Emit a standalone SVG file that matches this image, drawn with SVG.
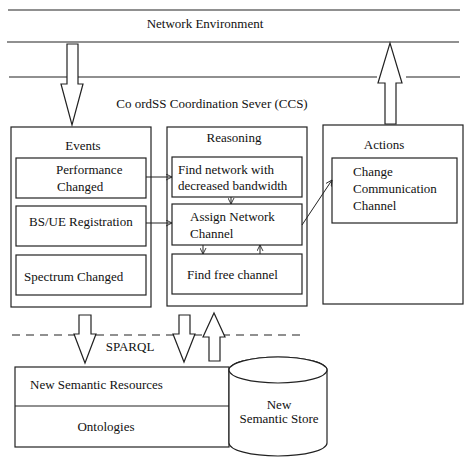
<svg xmlns="http://www.w3.org/2000/svg" width="474" height="465" viewBox="0 0 474 465">
<style>
text{font-family:"Liberation Serif","DejaVu Serif",serif;font-size:13px;fill:#111}
.b{fill:#fff;stroke:#222;stroke-width:1.2}
.l{stroke:#222;stroke-width:1.2;fill:none}
.c{stroke:#222;stroke-width:1;fill:none}
.bigarrow{fill:#fff;stroke:#222;stroke-width:1.2}
.m{text-anchor:middle}
</style>
<defs>
<marker id="ah" viewBox="0 0 8 8" refX="7" refY="4" markerWidth="7" markerHeight="7" orient="auto" markerUnits="userSpaceOnUse">
<path d="M0,0.5 L7,4 L0,7.5" fill="none" stroke="#222" stroke-width="1"/>
</marker>
</defs>
<rect width="474" height="465" fill="#fff"/>

<g id="environment">
<line class="l" x1="8" y1="10" x2="460" y2="10"/>
<line class="l" x1="7" y1="42" x2="459" y2="42"/>
<line class="l" x1="9" y1="77" x2="377" y2="77"/>
<line class="l" x1="406" y1="77" x2="460" y2="77"/>
<text class="m" x="205" y="28">Network Environment</text>
<text class="m" x="212" y="108">Co ordSS Coordination Sever (CCS)</text>
</g>

<g id="arrow-down-env">
<polygon class="bigarrow" points="67,44 78,44 78,84 83,84 72,125 61,84 67,84"/>
</g>
<g id="arrow-up-env">
<polygon class="bigarrow" points="385,124 396,124 396,83 402,83 390,43 378,83 385,83"/>
</g>

<g id="events">
<rect class="b" x="11" y="127" width="140" height="180"/>
<text class="m" x="83" y="150">Events</text>
</g>
<g id="performance-changed">
<rect class="b" x="16" y="158" width="130" height="40"/>
<text x="56" y="174">Performance</text>
<text x="57" y="191">Changed</text>
</g>
<g id="bsue-registration">
<rect class="b" x="16" y="206" width="130" height="40"/>
<text x="29" y="226">BS/UE Registration</text>
</g>
<g id="spectrum-changed">
<rect class="b" x="16" y="255" width="130" height="40"/>
<text x="24" y="281">Spectrum Changed</text>
</g>

<g id="reasoning">
<rect class="b" x="167" y="127" width="140" height="179"/>
<text class="m" x="234" y="142">Reasoning</text>
</g>
<g id="find-network">
<rect class="b" x="172" y="157" width="130" height="40"/>
<text x="178" y="174">Find network with</text>
<text x="178" y="190">decreased bandwidth</text>
</g>
<g id="assign-channel">
<rect class="b" x="172" y="204" width="130" height="41"/>
<text x="190" y="221">Assign Network</text>
<text x="190" y="238">Channel</text>
</g>
<g id="find-free">
<rect class="b" x="172" y="254" width="130" height="40"/>
<text x="187" y="279">Find free channel</text>
</g>

<g id="actions">
<rect class="b" x="323" y="125" width="140" height="179"/>
<text class="m" x="384" y="149">Actions</text>
</g>
<g id="change-channel">
<rect class="b" x="332" y="158" width="125" height="65"/>
<text x="353" y="176">Change</text>
<text x="353" y="193">Communication</text>
<text x="353" y="210">Channel</text>
</g>

<g id="connectors">
<line class="c" x1="146" y1="177" x2="172" y2="177" marker-end="url(#ah)"/>
<line class="c" x1="146" y1="223" x2="172" y2="223" marker-end="url(#ah)"/>
<line class="c" x1="231" y1="197" x2="231" y2="204" marker-end="url(#ah)"/>
<line class="c" x1="203" y1="245" x2="203" y2="254" marker-end="url(#ah)"/>
<line class="c" x1="260" y1="254" x2="260" y2="245" marker-end="url(#ah)"/>
<line class="c" x1="302" y1="225" x2="332" y2="180" marker-end="url(#ah)"/>
</g>

<g id="sparql">
<line x1="12" y1="335" x2="302" y2="335" stroke="#222" stroke-width="1.2" stroke-dasharray="8,6"/>
<polygon class="bigarrow" points="79,315 91,315 91,334 96,334 85,363 74,334 79,334"/>
<polygon class="bigarrow" points="179,315 190,315 190,334 195,334 184,362 173,334 179,334"/>
<polygon class="bigarrow" points="209,361 220,361 220,337 225,337 214,313 203,337 209,337"/>
<text class="m" x="130" y="351">SPARQL</text>
</g>

<g id="semantic-resources">
<rect class="b" x="15" y="367" width="214" height="80"/>
<line class="l" x1="15" y1="406" x2="229" y2="406"/>
<text x="30" y="389">New Semantic Resources</text>
<text class="m" x="106" y="431">Ontologies</text>
</g>

<g id="semantic-store">
<path class="b" d="M229,370 L229,443 A49,13 0 0 0 327,443 L327,370 A49,13 0 0 0 229,370 Z"/>
<ellipse class="b" cx="278" cy="370" rx="49" ry="13"/>
<text class="m" x="279" y="409">New</text>
<text class="m" x="279" y="423">Semantic Store</text>
</g>
</svg>
